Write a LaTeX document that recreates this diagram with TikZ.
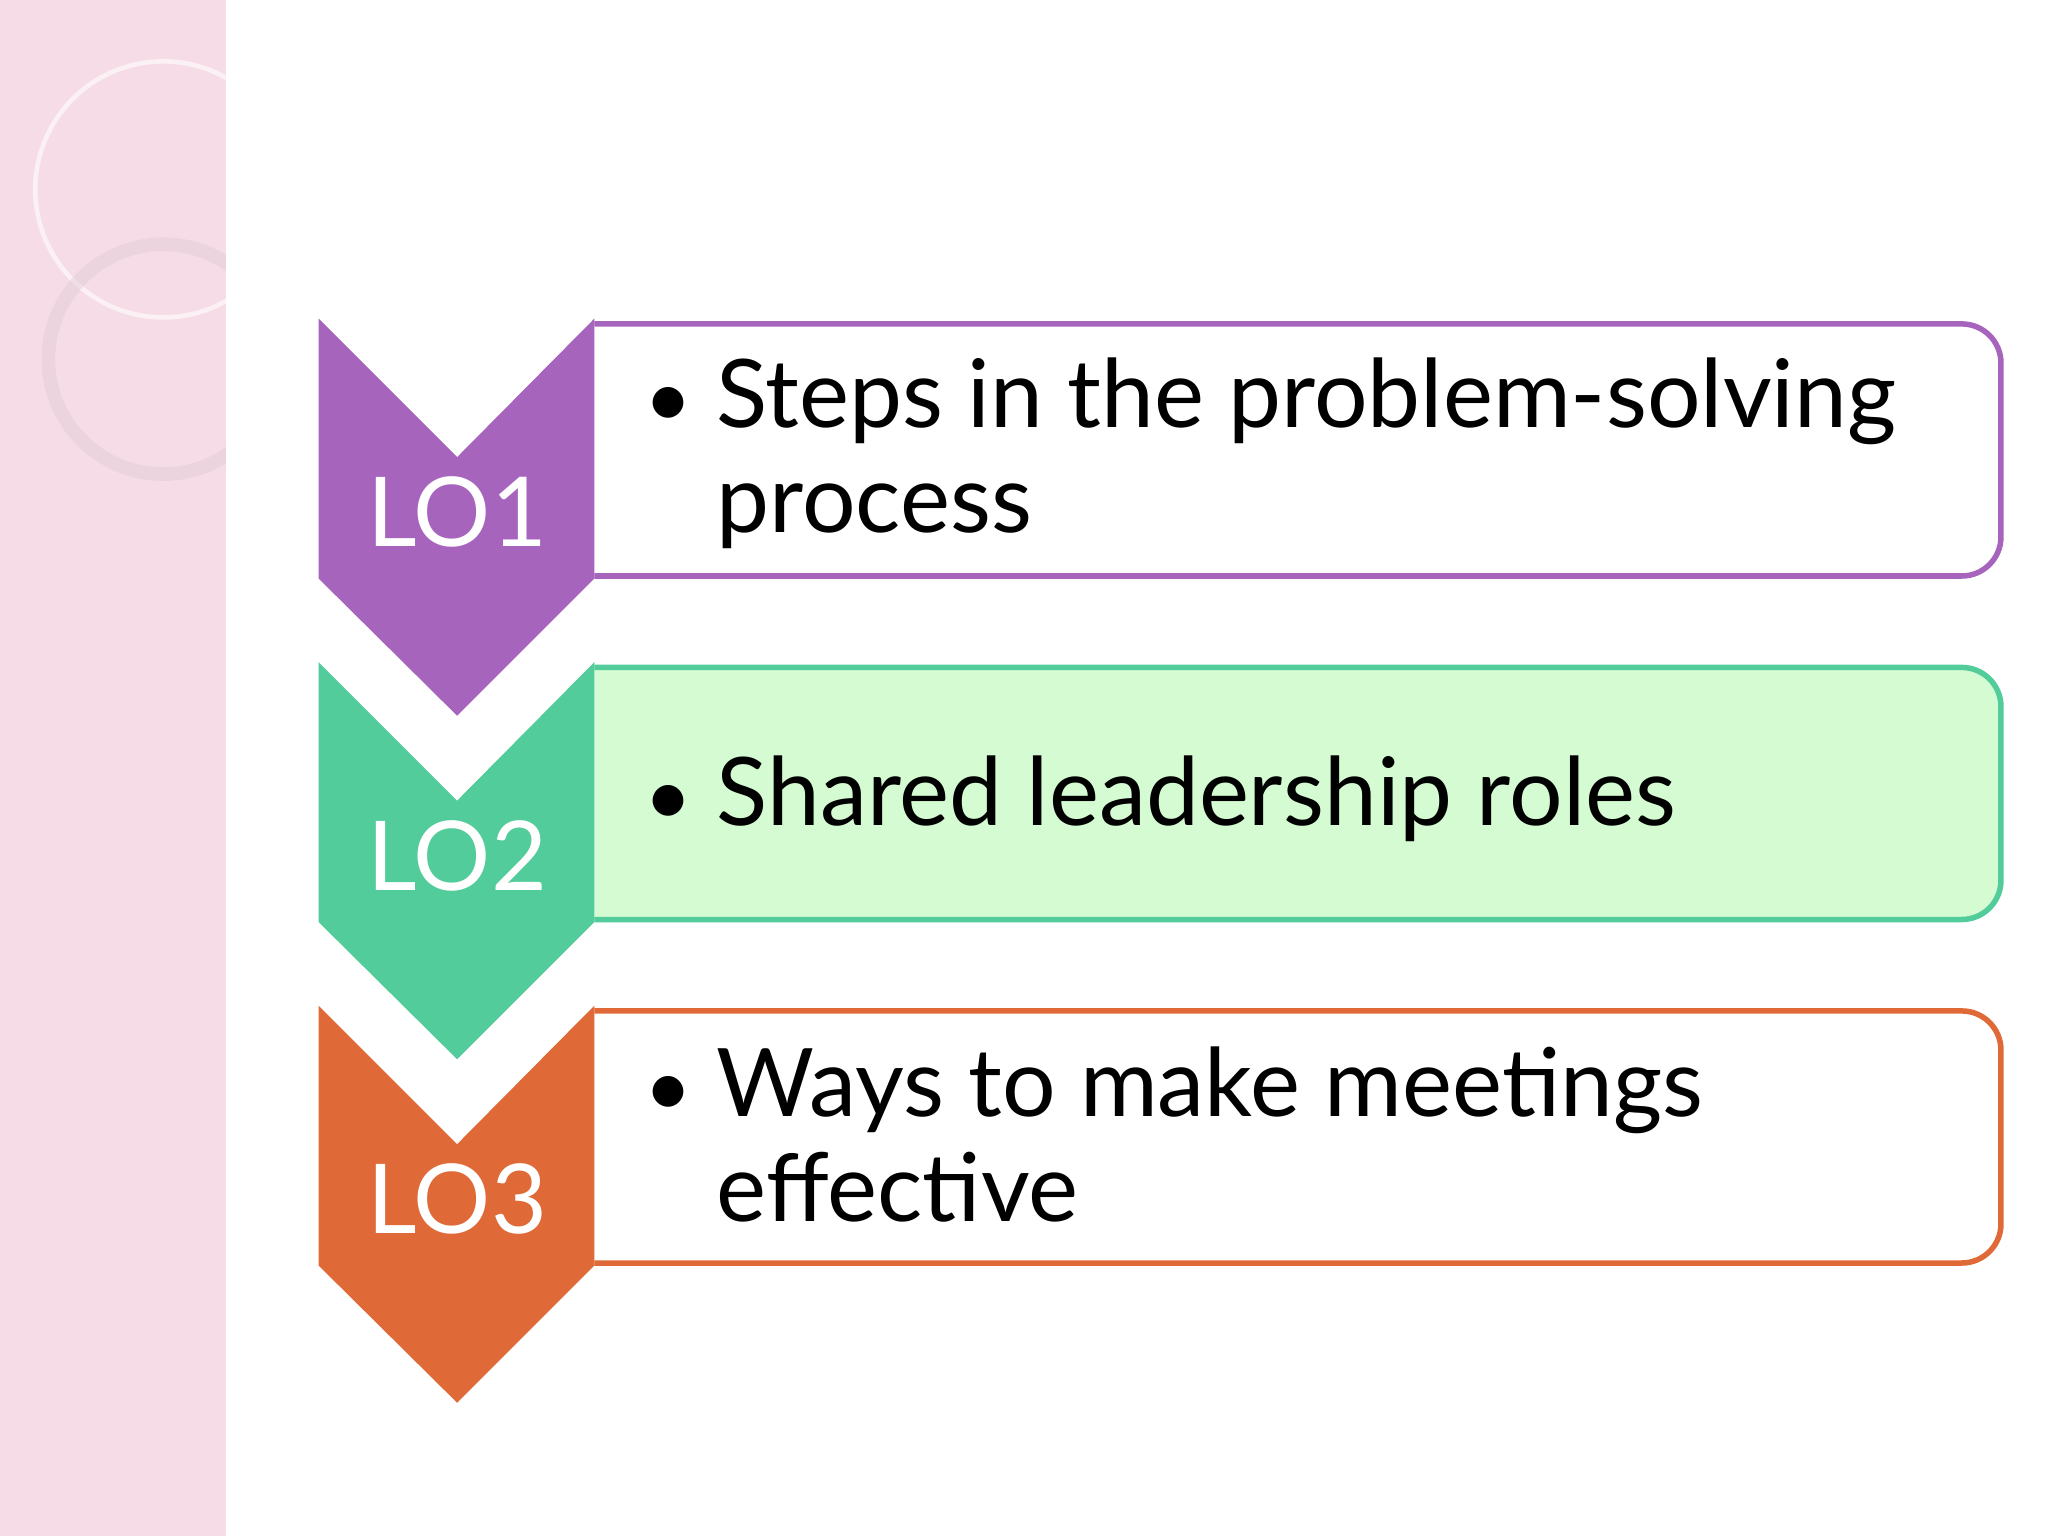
\documentclass[tikz,border=0pt]{standalone}
\usepackage{fontspec}
\setmainfont{Lato}
\begin{document}
\begin{tikzpicture}[x=0.01cm,y=-0.01cm,
  lbl/.style={text=white,font=\fontsize{21}{26}\selectfont},
  itm/.style={anchor=base west,font=\fontsize{20.6}{27}\selectfont,inner sep=0},
  bul/.style={anchor=base,font=\fontsize{18}{27}\selectfont,inner sep=0},
  box/.style={line width=1.2pt,rounded corners=0.3cm}]
\definecolor{pu}{HTML}{A764BD}\definecolor{gr}{HTML}{52CC9A}\definecolor{orr}{HTML}{DF6A37}
\definecolor{pk}{HTML}{F6DCE6}\definecolor{lg}{HTML}{D4FBD2}
\useasboundingbox (0,0) rectangle (1568,1176);
\fill[white] (0,0) rectangle (1568,1176);
\fill[pk] (0,0) rectangle (173,1176);
\begin{scope}
\clip (0,0) rectangle (173,1176);
\draw[white,opacity=0.6,line width=1pt] (125,145) circle (98);
\draw[pk!85!gray,opacity=0.5,line width=3pt] (125,275) circle (88);
\end{scope}
\fill[lg,rounded corners=0.3cm] (455,511)--(1532,511)--(1532,704)--(455,704);
\draw[box,pu] (455,248)--(1532,248)--(1532,441)--(455,441);
\draw[box,gr] (455,511)--(1532,511)--(1532,704)--(455,704);
\draw[box,orr] (455,774)--(1532,774)--(1532,967)--(455,967);
\foreach \c/\o/\t/\n in {pu/0/LO1/a,gr/263/LO2/b,orr/526/LO3/c}{
  \fill[\c] (244,244+\o)--(350,350+\o)--(455,244+\o)--(455,443+\o)--(350,548+\o)--(244,443+\o)--cycle;
  \node[lbl] (\n) at (350,392+\o) {\t};
}
\node[bul] (b1) at (512,327) {•};
\node[itm] (t1) at (548,327) {Steps in the problem-solving};
\node[itm] (t1b) at (548,408) {process};
\node[bul] (b2) at (512,632) {•};
\node[itm] (t2) at (548,632) {Shared leadership roles};
\node[bul] (b3) at (512,855) {•};
\node[itm] (t3) at (548,855) {Ways to make meetings};
\node[itm] (t3b) at (548,935) {effective};
\end{tikzpicture}
\end{document}
